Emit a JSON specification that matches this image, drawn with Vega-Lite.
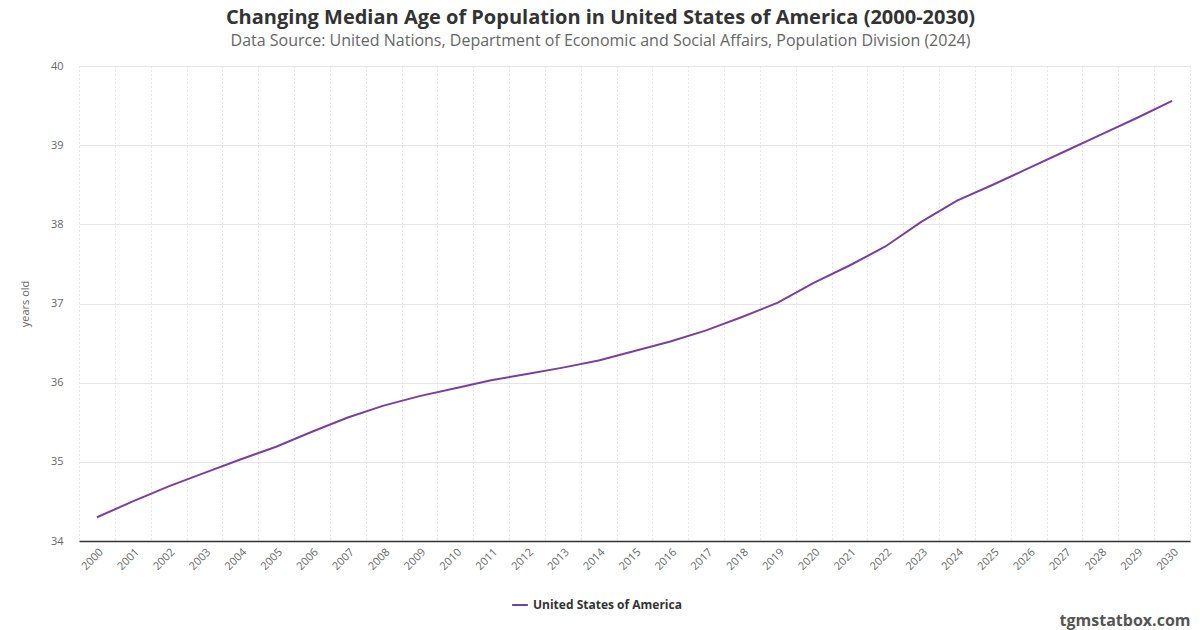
{
  "$schema": "https://vega.github.io/schema/vega-lite/v6.json",
  "width": 1111,
  "height": 475,
  "autosize": {"type": "none"},
  "padding": {"left": 79, "top": 66, "right": 10, "bottom": 89},
  "background": "white",
  "title": {
    "text": "Changing Median Age of Population in United States of America (2000-2030)",
    "subtitle": "Data Source: United Nations, Department of Economic and Social Affairs, Population Division (2024)",
    "anchor": "middle",
    "dx": -34,
    "font": "Open Sans",
    "fontSize": 20,
    "fontWeight": "bold",
    "color": "#333333",
    "subtitleFont": "Open Sans",
    "subtitleFontSize": 16,
    "subtitleColor": "#666666",
    "offset": 11,
    "subtitlePadding": 5
  },
  "data": {
    "values": [
      {"year": "2000", "age": 34.30, "country": "United States of America"},
      {"year": "2001", "age": 34.50, "country": "United States of America"},
      {"year": "2002", "age": 34.69, "country": "United States of America"},
      {"year": "2003", "age": 34.86, "country": "United States of America"},
      {"year": "2004", "age": 35.03, "country": "United States of America"},
      {"year": "2005", "age": 35.19, "country": "United States of America"},
      {"year": "2006", "age": 35.38, "country": "United States of America"},
      {"year": "2007", "age": 35.56, "country": "United States of America"},
      {"year": "2008", "age": 35.71, "country": "United States of America"},
      {"year": "2009", "age": 35.83, "country": "United States of America"},
      {"year": "2010", "age": 35.93, "country": "United States of America"},
      {"year": "2011", "age": 36.03, "country": "United States of America"},
      {"year": "2012", "age": 36.11, "country": "United States of America"},
      {"year": "2013", "age": 36.19, "country": "United States of America"},
      {"year": "2014", "age": 36.28, "country": "United States of America"},
      {"year": "2015", "age": 36.40, "country": "United States of America"},
      {"year": "2016", "age": 36.52, "country": "United States of America"},
      {"year": "2017", "age": 36.66, "country": "United States of America"},
      {"year": "2018", "age": 36.83, "country": "United States of America"},
      {"year": "2019", "age": 37.01, "country": "United States of America"},
      {"year": "2020", "age": 37.26, "country": "United States of America"},
      {"year": "2021", "age": 37.48, "country": "United States of America"},
      {"year": "2022", "age": 37.72, "country": "United States of America"},
      {"year": "2023", "age": 38.03, "country": "United States of America"},
      {"year": "2024", "age": 38.30, "country": "United States of America"},
      {"year": "2025", "age": 38.50, "country": "United States of America"},
      {"year": "2026", "age": 38.71, "country": "United States of America"},
      {"year": "2027", "age": 38.92, "country": "United States of America"},
      {"year": "2028", "age": 39.13, "country": "United States of America"},
      {"year": "2029", "age": 39.34, "country": "United States of America"},
      {"year": "2030", "age": 39.56, "country": "United States of America"}
    ]
  },
  "mark": {"type": "line", "strokeWidth": 2},
  "encoding": {
    "x": {
      "field": "year",
      "type": "ordinal",
      "bandPosition": 0.5,
      "scale": {"type": "band", "paddingInner": 0, "paddingOuter": 0},
      "axis": {
        "labelAngle": -45,
        "labelFont": "Open Sans",
        "labelFontSize": 11,
        "labelColor": "#666666",
        "labelPadding": 5,
        "domainColor": "#333333",
        "domainWidth": 1.5,
        "ticks": false,
        "grid": true,
        "gridDash": [1, 3],
        "gridColor": "#cccccc",
        "tickBand": "extent",
        "title": "tgmstatbox.com",
        "titleAnchor": "end",
        "titleFont": "Open Sans",
        "titleFontSize": 16,
        "titleFontWeight": "bold",
        "titleColor": "#555555",
        "titleY": 79,
        "titleBaseline": "middle"
      }
    },
    "y": {
      "field": "age",
      "type": "quantitative",
      "scale": {"domain": [34, 40], "nice": false, "zero": false},
      "axis": {
        "values": [34, 35, 36, 37, 38, 39, 40],
        "domain": false,
        "ticks": false,
        "labelFont": "Open Sans",
        "labelFontSize": 11,
        "labelColor": "#666666",
        "labelPadding": 16,
        "gridColor": "#e6e6e6",
        "title": "years old",
        "titleFont": "Open Sans",
        "titleFontSize": 11,
        "titleFontWeight": "normal",
        "titleColor": "#666666",
        "titlePadding": 20
      }
    },
    "color": {
      "field": "country",
      "type": "nominal",
      "scale": {"range": ["#7b3f9f"]},
      "legend": {
        "orient": "none",
        "legendX": 432,
        "legendY": 530,
        "title": null,
        "symbolType": "stroke",
        "symbolStrokeWidth": 2,
        "symbolSize": 250,
        "labelFont": "Open Sans",
        "labelFontSize": 12,
        "labelFontWeight": "bold",
        "labelColor": "#333333"
      }
    }
  },
  "config": {"view": {"stroke": null}}
}
